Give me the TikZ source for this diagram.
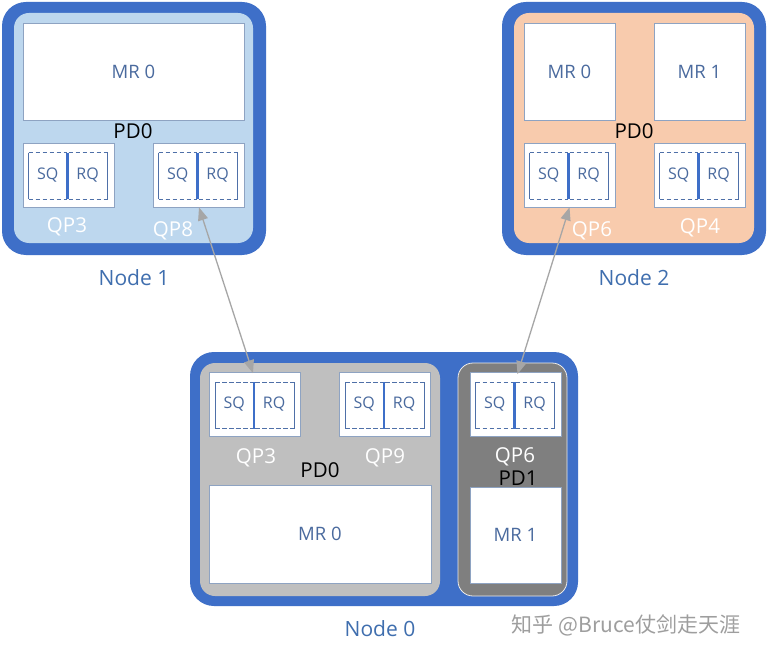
\documentclass[tikz,border=0pt]{standalone}
\usepackage{fontspec}
\setmainfont{Open Sans}
\newfontfamily\cjkfont{Noto Sans CJK SC}
\usetikzlibrary{arrows.meta}
\definecolor{nodeblue}{HTML}{3E6FC8}
\definecolor{lightblue}{HTML}{BDD7EE}
\definecolor{salmon}{HTML}{F8CBAD}
\definecolor{lgray}{HTML}{BFBFBF}
\definecolor{dgray}{HTML}{7F7F7F}
\definecolor{boxline}{HTML}{8EA3C2}
\definecolor{txtblue}{HTML}{4A6A9E}
\definecolor{lblblue}{HTML}{3F6EAE}
\definecolor{qline}{HTML}{4F70A8}
\definecolor{conncol}{HTML}{A6A6A6}
\tikzset{
  x=1pt, y=-1pt,
  outerbox/.style={fill=nodeblue, rounded corners=24pt},
  innerbox/.style={rounded corners=15pt},
  wbox/.style={draw=boxline, fill=white, line width=0.7pt, inner sep=0pt},
  qpbox/.style={wbox, minimum width=91pt, minimum height=64pt},
  mrtext/.style={text=txtblue, font=\fontsize{18.5}{20}\selectfont},
  qtext/.style={text=txtblue, font=\fontsize{16}{18}\selectfont},
  qplabel/.style={text=white, font=\fontsize{20.5}{22}\selectfont},
  pdlabel/.style={text=black, font=\fontsize{20.5}{22}\selectfont},
  nodelabel/.style={text=lblblue, font=\fontsize{21}{23}\selectfont},
  conn/.style={draw=conncol, line width=1.3pt, {Triangle[length=13pt,width=10pt]}-{Triangle[length=13pt,width=10pt]}},
  qdash/.style={draw=qline, line width=0.8pt, dash pattern=on 4.5pt off 2.5pt},
  qsolid/.style={draw=qline, line width=1pt},
  qmid/.style={draw=nodeblue, line width=2.4pt},
}
% queue pair inside a QP node: #1 = node name
\newcommand{\qpair}[1]{%
  \draw[qdash] ([xshift=6pt,yshift=-10pt]#1.north west) -- ([xshift=44pt,yshift=-10pt]#1.north west);
  \draw[qdash] ([xshift=6pt,yshift=8pt]#1.south west) -- ([xshift=44pt,yshift=8pt]#1.south west);
  \draw[qdash] ([xshift=46pt,yshift=-10pt]#1.north west) -- ([xshift=85pt,yshift=-10pt]#1.north west);
  \draw[qdash] ([xshift=46pt,yshift=8pt]#1.south west) -- ([xshift=85pt,yshift=8pt]#1.south west);
  \draw[qsolid] ([xshift=6pt,yshift=-10pt]#1.north west) -- ([xshift=6pt,yshift=8pt]#1.south west);
  \draw[qsolid] ([xshift=85pt,yshift=-10pt]#1.north west) -- ([xshift=85pt,yshift=8pt]#1.south west);
  \draw[qmid] ([xshift=45pt,yshift=-10pt]#1.north west) -- ([xshift=45pt,yshift=8pt]#1.south west);
  \node[qtext] at ([xshift=25pt]#1.west) {SQ};
  \node[qtext] at ([xshift=65pt]#1.west) {RQ};
}
\begin{document}
\begin{tikzpicture}
\useasboundingbox (0,0) rectangle (768,655);
\fill[white] (0,0) rectangle (768,655);

% ---------- Node 1 ----------
\fill[outerbox] (2,2) rectangle (266,255);
\fill[innerbox, lightblue] (14,13) rectangle (253,243);
\node[wbox, minimum width=221pt, minimum height=97pt] (n1mr0) at (133.5,71.5) {};
\node[mrtext] at (n1mr0) {MR 0};
\node[pdlabel] (n1pd0) at (133,131) {PD0};
\node[qpbox] (n1qp3) at (68.5,175) {};
\node[qpbox] (n1qp8) at (198.5,175) {};
\qpair{n1qp3}
\qpair{n1qp8}
\node[qplabel] (n1qp3l) at (67,227) {QP3};
\node[qplabel] (n1qp8l) at (173,231) {QP8};
\node[nodelabel] (n1lbl) at (134,278) {Node 1};

% ---------- Node 2 ----------
\fill[outerbox] (502,2) rectangle (766,255);
\fill[innerbox, salmon] (514,13) rectangle (754,243);
\node[wbox, minimum width=91pt, minimum height=97pt] (n2mr0) at (569.5,71.5) {};
\node[mrtext] at (n2mr0) {MR 0};
\node[wbox, minimum width=91pt, minimum height=97pt] (n2mr1) at (699.5,71.5) {};
\node[mrtext] at (n2mr1) {MR 1};
\node[pdlabel] (n2pd0) at (634,131) {PD0};
\node[qpbox] (n2qp6) at (569.5,175) {};
\node[qpbox] (n2qp4) at (699.5,175) {};
\qpair{n2qp6}
\qpair{n2qp4}
\node[qplabel] (n2qp6l) at (592,231) {QP6};
\node[qplabel] (n2qp4l) at (700,228) {QP4};
\node[nodelabel] (n2lbl) at (634,278) {Node 2};

% ---------- Node 0 ----------
\fill[outerbox] (190,352) rectangle (578,606);
\fill[innerbox, lgray] (200,363) rectangle (440,596);
\filldraw[innerbox, fill=dgray, draw=white!85!dgray, line width=0.8pt] (458,363) rectangle (567,596);
\node[qpbox] (n0qp3) at (255,404.5) {};
\node[qpbox] (n0qp9) at (385,404.5) {};
\node[qpbox] (n0qp6) at (515.5,404.5) {};
\qpair{n0qp3}
\qpair{n0qp9}
\qpair{n0qp6}
\node[qplabel] (n0qp3l) at (256,458) {QP3};
\node[qplabel] (n0qp9l) at (385,458) {QP9};
\node[qplabel] (n0qp6l) at (515,457) {QP6};
\node[pdlabel] (n0pd0) at (320,470) {PD0};
\node[pdlabel] (n0pd1) at (518,478) {PD1};
\node[wbox, minimum width=222pt, minimum height=98pt] (n0mr0) at (320,534) {};
\node[mrtext] at (n0mr0) {MR 0};
\node[wbox, minimum width=91pt, minimum height=96pt] (n0mr1) at (515.5,535) {};
\node[mrtext] at (n0mr1) {MR 1};
\node[nodelabel] (n0lbl) at (380,629) {Node 0};

% ---------- connectors ----------
\draw[conn] ([xshift=0.5pt]n1qp8.south) -- ([xshift=-2pt,yshift=-1pt]n0qp3.north);
\draw[conn] (n2qp6.south) -- ([xshift=2pt,yshift=-2pt]n0qp6.north);

% ---------- watermark ----------
\node[text=black!38, font=\cjkfont\fontsize{21}{23}\selectfont] (wm) at (626,625) {知乎 @Bruce仗剑走天涯};
\end{tikzpicture}
\end{document}
